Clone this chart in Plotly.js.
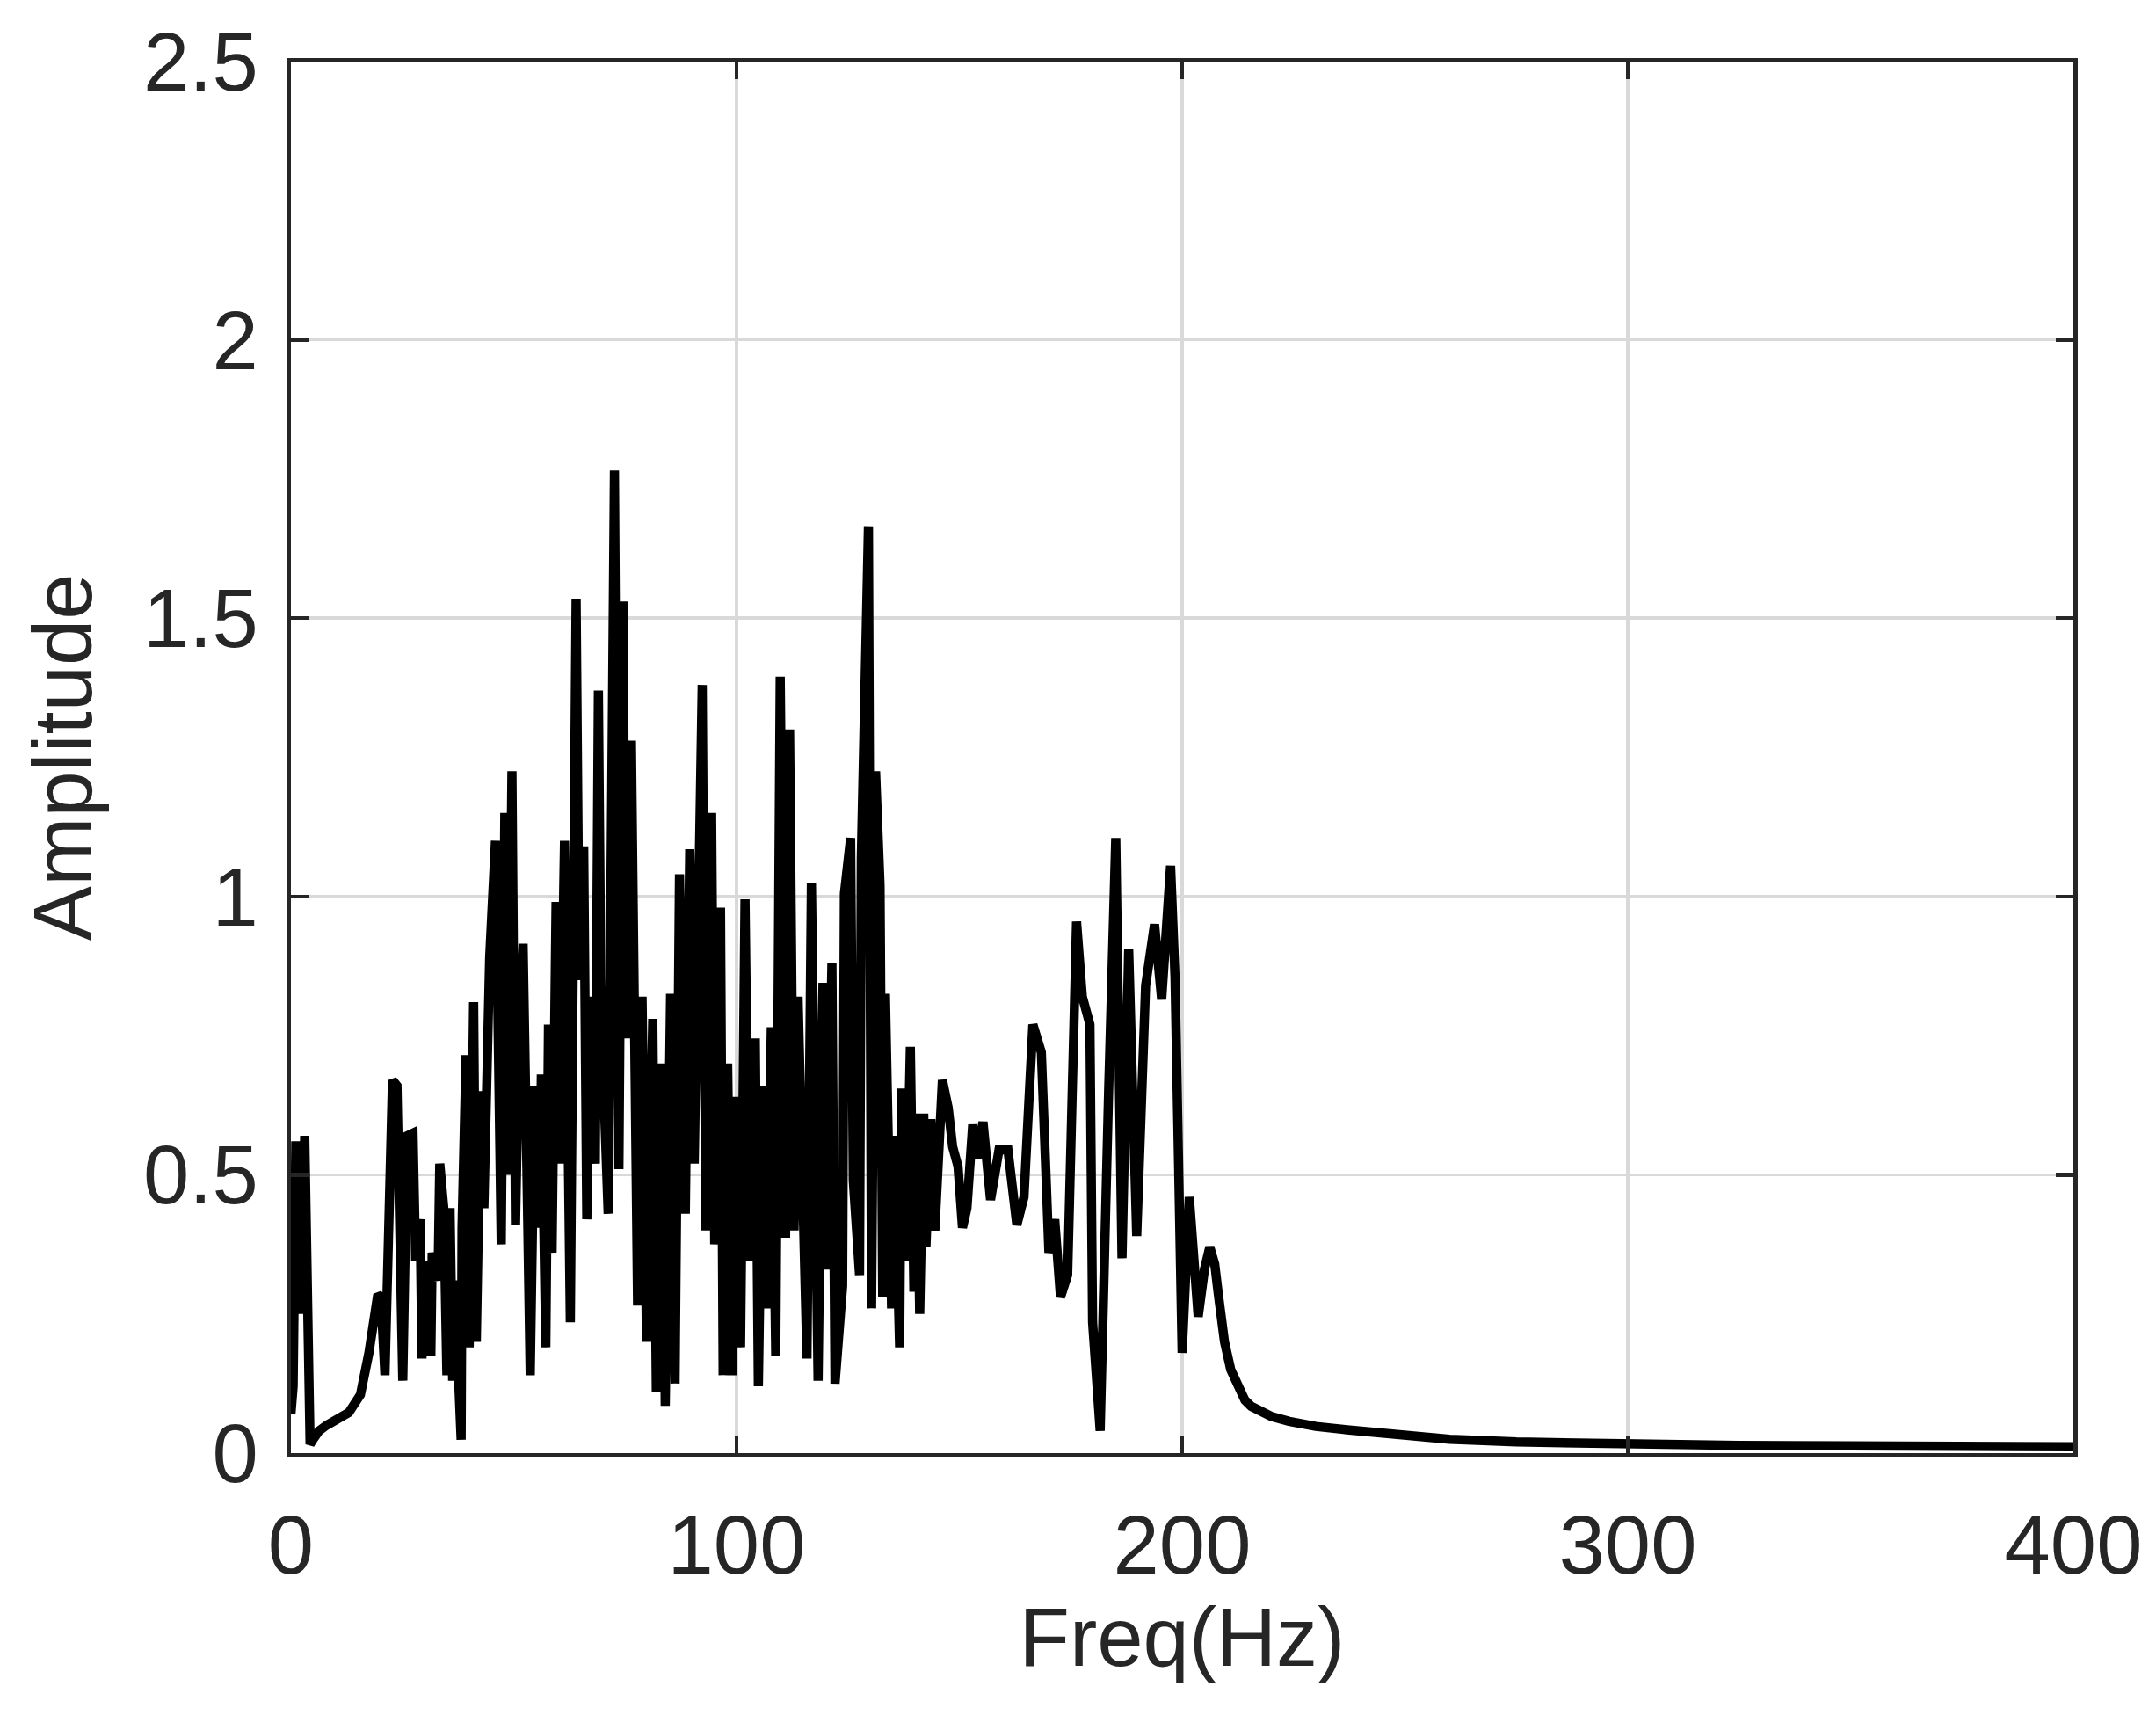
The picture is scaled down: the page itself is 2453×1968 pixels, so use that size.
<!DOCTYPE html>
<html>
<head>
<meta charset="utf-8">
<script src="https://cdn.plot.ly/plotly-3.0.1.min.js"></script>
<style>
html,body{margin:0;padding:0;background:#fff;}
#chart{width:2453px;height:1968px;}
</style>
</head>
<body>
<div id="chart"></div>
<script>
var freq = [0,0.5,1.1,2.0,3.1,4.3,5.0,6.3,8.0,10,13.0,15.6,17.5,19.5,20.2,21.1,22.8,23.8,25.1,26.1,27.4,28.0,29.0,29.4,30.4,31.4,31.7,33.0,33.4,34.3,35.0,35.7,36.3,36.7,38.2,38.4,39.3,40.0,41.0,41.6,42.6,43.3,44.6,45.9,46.8,47.2,48.0,48.6,49.6,50.4,51.2,52.1,53.1,53.7,54.7,55.7,56.2,57.2,57.8,58.6,59.5,60.2,61.4,62.7,64.0,64.7,65.7,66.4,67.1,68.3,69.0,69.6,71.2,72.6,73.6,74.5,75.2,76.4,77.8,78.8,79.8,81.2,82.0,83.2,84.0,85.2,86.2,87.2,88.5,89.5,90.5,92.3,93.1,94.4,95.1,96.4,97.0,98.0,99.0,100.0,100.9,101.9,102.9,104.2,104.9,105.9,106.8,107.8,108.8,109.8,111.0,111.9,112.9,113.8,114.8,115.8,116.8,118.3,119.4,120.1,121.4,122.1,123.8,124.2,125.6,126.2,127.6,128.0,129.6,130.3,131.2,132.2,132.8,133.4,134.8,135.4,136.6,137.0,138.0,139.0,139.8,140.4,141.1,142.0,142.5,143.6,144.5,146.2,147.5,148.5,149.7,150.7,151.7,153.0,154.0,155.3,157.0,158.9,160.9,162.9,164.5,166.5,168.4,170.1,171.4,172.7,174.3,176.3,177.6,179.3,179.9,181.6,183.5,185.1,186.5,188.0,189.8,191.8,193.8,195.4,197.4,198.4,200.0,201.6,203.6,205.0,206.2,207.3,208.2,209.5,210.9,212.2,214.1,215.5,217.4,220,224,230,237,244,250,260,275,300,325,350,375,400];
var amplitude = [0.07,0.12,0.56,0.25,0.57,0.016,0.025,0.04,0.05,0.058,0.073,0.105,0.18,0.285,0.28,0.14,0.67,0.66,0.13,0.57,0.575,0.345,0.42,0.17,0.345,0.175,0.36,0.31,0.52,0.44,0.14,0.44,0.13,0.31,0.024,0.405,0.715,0.19,0.81,0.20,0.65,0.44,0.89,1.10,0.60,0.375,1.15,0.50,1.225,0.41,0.75,0.915,0.44,0.14,0.66,0.405,0.68,0.19,0.77,0.36,0.99,0.52,1.10,0.235,1.535,0.85,1.09,0.42,0.82,0.52,1.37,0.79,0.43,1.765,0.51,1.53,0.745,1.28,0.265,0.82,0.20,0.78,0.11,0.70,0.085,0.825,0.125,1.04,0.43,1.085,0.52,1.38,0.40,1.15,0.375,0.98,0.14,0.70,0.14,0.64,0.19,0.995,0.345,0.745,0.12,0.66,0.26,0.765,0.175,1.395,0.387,1.30,0.40,0.82,0.49,0.17,1.025,0.13,0.845,0.33,0.88,0.125,0.30,1.005,1.105,0.49,0.32,1.07,1.665,0.26,1.225,1.02,0.28,0.825,0.26,0.57,0.19,0.655,0.345,0.73,0.29,0.61,0.25,0.61,0.37,0.60,0.40,0.67,0.62,0.55,0.515,0.405,0.44,0.59,0.53,0.595,0.455,0.545,0.545,0.41,0.46,0.77,0.72,0.36,0.42,0.28,0.32,0.955,0.82,0.77,0.235,0.04,0.65,1.105,0.35,0.905,0.39,0.84,0.95,0.815,1.055,0.855,0.18,0.46,0.245,0.33,0.37,0.34,0.28,0.20,0.15,0.125,0.095,0.084,0.076,0.066,0.057,0.048,0.042,0.036,0.031,0.025,0.020,0.016,0.014,0.013,0.012,0.0115];
var xTicks = [0,100,200,300,400];
var yTicks = [0,0.5,1,1.5,2,2.5];

var axisColor = '#262626';
var fontFam = 'Liberation Sans, Arial, Helvetica, sans-serif';

var trace = {
  x: freq, y: amplitude, type: 'scatter', mode: 'lines',
  line: {color: '#000000', width: 10.5}, hoverinfo: 'skip'
};

function axisStyle(extra){
  var a = {
    showline: true, linecolor: axisColor, linewidth: 4.5,
    ticks: 'inside', ticklen: 20, tickwidth: 4.5, tickcolor: axisColor,
    mirror: 'ticks',
    showgrid: true, gridcolor: '#d9d9d9', gridwidth: 3.5,
    zeroline: false,
    tickfont: {family: fontFam, size: 94, color: axisColor},
    automargin: false
  };
  for (var k in extra) a[k] = extra[k];
  return a;
}

var layout = {
  width: 2453, height: 1968,
  margin: {l: 331, r: 94, t: 70, b: 315},
  paper_bgcolor: '#ffffff', plot_bgcolor: '#ffffff',
  showlegend: false,
  xaxis: axisStyle({
    range: [0, 400], tickmode: 'array', tickvals: xTicks, ticktext: xTicks.map(String),
    ticklabelstandoff: 20,
    title: {text: 'Freq(Hz)', font: {family: fontFam, size: 94, color: axisColor}, standoff: 14}
  }),
  yaxis: axisStyle({
    range: [0, 2.5], tickmode: 'array', tickvals: yTicks, ticktext: yTicks.map(String),
    ticklabelstandoff: 14,
    title: {text: 'Amplitude', font: {family: fontFam, size: 94, color: axisColor}, standoff: 28}
  })
};

Plotly.newPlot('chart', [trace], layout, {staticPlot: true, displayModeBar: false});
</script>
</body>
</html>
